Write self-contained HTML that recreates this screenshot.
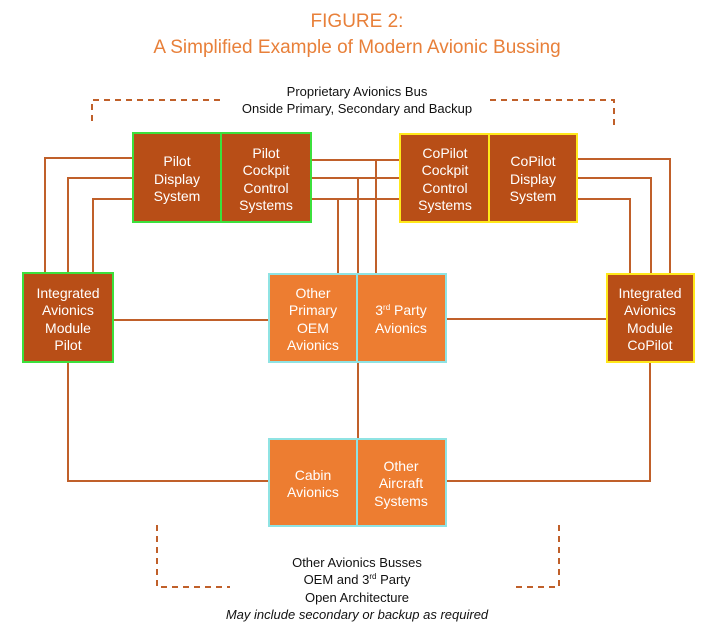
<!DOCTYPE html>
<html><head><meta charset="utf-8"><style>
html,body{margin:0;padding:0;background:#fff;}
svg{display:block;font-family:"Liberation Sans",sans-serif;}
</style></head><body>
<svg width="713" height="634" viewBox="0 0 713 634" xmlns="http://www.w3.org/2000/svg">
<g fill="#E8803A" font-size="19" text-anchor="middle">
<text x="357" y="27">FIGURE 2:</text>
<text x="357" y="53">A Simplified Example of Modern Avionic Bussing</text>
</g>
<g fill="#111" font-size="13" text-anchor="middle">
<text x="357" y="96">Proprietary Avionics Bus</text>
<text x="357" y="113">Onside Primary, Secondary and Backup</text>
<text x="357" y="567">Other Avionics Busses</text>
<text x="357" y="584">OEM and 3<tspan font-size="8" dy="-5">rd</tspan><tspan dy="5"> Party</tspan></text>
<text x="357" y="602">Open Architecture</text>
<text x="357" y="619" font-style="italic">May include secondary or backup as required</text>
</g>
<g stroke="#C0602A" stroke-width="2" fill="none" stroke-dasharray="6,5">
<path d="M220 100 H92 V124"/>
<path d="M490 100 H614 V127"/>
<path d="M157 525 V587 H230"/>
<path d="M559 525 V587 H513"/>
</g>
<g stroke="#C0602A" stroke-width="2" fill="none">
<path d="M133 158 H45 V273"/>
<path d="M133 178 H68 V273"/>
<path d="M133 199 H93 V273"/>
<path d="M311 160 H400"/>
<path d="M311 178 H400"/>
<path d="M311 199 H400"/>
<path d="M338 199 V274"/>
<path d="M358 178 V439"/>
<path d="M376 160 V274"/>
<path d="M577 159 H670 V274"/>
<path d="M577 178 H651 V274"/>
<path d="M577 199 H630 V274"/>
<path d="M113 320 H269"/>
<path d="M446 319 H607"/>
<path d="M68 362 V481 H269"/>
<path d="M650 362 V481 H446"/>
</g>
<g stroke-width="2">
<rect x="133" y="133" width="88" height="89" fill="#B84E17" stroke="#3CE03C"/>
<rect x="221" y="133" width="90" height="89" fill="#B84E17" stroke="#3CE03C"/>
<rect x="23" y="273" width="90" height="89" fill="#B84E17" stroke="#3CE03C"/>
<rect x="400" y="134" width="89" height="88" fill="#B84E17" stroke="#FFE81A"/>
<rect x="489" y="134" width="88" height="88" fill="#B84E17" stroke="#FFE81A"/>
<rect x="607" y="274" width="87" height="88" fill="#B84E17" stroke="#FFE81A"/>
<rect x="269" y="274" width="88" height="88" fill="#ED7D31" stroke="#8FE3E3"/>
<rect x="357" y="274" width="89" height="88" fill="#ED7D31" stroke="#8FE3E3"/>
<rect x="269" y="439" width="88" height="87" fill="#ED7D31" stroke="#8FE3E3"/>
<rect x="357" y="439" width="89" height="87" fill="#ED7D31" stroke="#8FE3E3"/>
</g>
<g fill="#fff" font-size="14" text-anchor="middle">
<text x="177" y="166">Pilot</text><text x="177" y="184">Display</text><text x="177" y="201">System</text>
<text x="266" y="158">Pilot</text><text x="266" y="175">Cockpit</text><text x="266" y="193">Control</text><text x="266" y="210">Systems</text>
<text x="445" y="158">CoPilot</text><text x="445" y="175">Cockpit</text><text x="445" y="193">Control</text><text x="445" y="210">Systems</text>
<text x="533" y="166">CoPilot</text><text x="533" y="184">Display</text><text x="533" y="201">System</text>
<text x="68" y="298">Integrated</text><text x="68" y="315">Avionics</text><text x="68" y="333">Module</text><text x="68" y="350">Pilot</text>
<text x="650" y="298">Integrated</text><text x="650" y="315">Avionics</text><text x="650" y="333">Module</text><text x="650" y="350">CoPilot</text>
<text x="313" y="298">Other</text><text x="313" y="315">Primary</text><text x="313" y="333">OEM</text><text x="313" y="350">Avionics</text>
<text x="401" y="315">3<tspan font-size="8" dy="-5">rd</tspan><tspan dy="5"> Party</tspan></text><text x="401" y="333">Avionics</text>
<text x="313" y="480">Cabin</text><text x="313" y="497">Avionics</text>
<text x="401" y="471">Other</text><text x="401" y="488">Aircraft</text><text x="401" y="506">Systems</text>
</g>
</svg>
</body></html>
